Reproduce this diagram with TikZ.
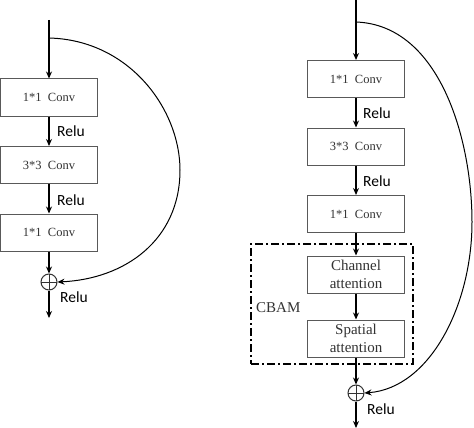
\documentclass[tikz,border=0pt]{standalone}
\usepackage{fontspec}
\setmainfont{Liberation Serif}
\newfontfamily\relufont{Carlito}
\usetikzlibrary{arrows.meta}
\begin{document}
\begin{tikzpicture}[x=1pt,y=-1pt,
 convbox/.style={draw=black!65, line width=1pt, fill=white, minimum width=97pt, minimum height=37pt, inner sep=0pt, font=\fontsize{12.5}{14}\selectfont, text=black!80, align=center},
 attbox/.style={convbox, font=\fontsize{15}{18}\selectfont},
 flow/.style={draw=black, line width=1.2pt, -{Stealth[length=7pt,width=6pt]}},
 link/.style={draw=black, line width=1pt, -{Stealth[length=7pt,width=6pt]}},
 relu/.style={font=\relufont\fontsize{15.5}{17}\selectfont, anchor=west, inner sep=0pt, text=black},
 sum/.style={circle, draw=black!80, line width=1pt, minimum size=16pt, inner sep=0pt, fill=white,
   path picture={\draw[black!80, line width=1pt] (path picture bounding box.north) -- (path picture bounding box.south) (path picture bounding box.west) -- (path picture bounding box.east);}},
 cbam/.style={draw=black, line width=1.8pt, dash pattern=on 8pt off 3pt on 2pt off 3pt, minimum width=162pt, minimum height=120pt, inner sep=0pt},
 lbl/.style={font=\fontsize{15}{18}\selectfont, text=black!80, anchor=west, inner sep=0pt},
]
\useasboundingbox (0,0) rectangle (474,428);

% ---------- left block ----------
\coordinate (ain) at (49,20);
\coordinate (ab) at (49,38);
\node[convbox] (a1) at (49,97.5) {1*1\ \ Conv};
\node[convbox] (a2) at (49,165) {3*3\ \ Conv};
\node[convbox] (a3) at (49,232.5) {1*1\ \ Conv};
\node[sum] (asum) at (49,282) {};
\coordinate (aout) at (49,318);

\draw[flow] (ain) -- (a1);
\draw[flow] (a1) -- (a2);
\draw[flow] (a2) -- (a3);
\draw[flow] (a3) -- (asum);
\draw[flow] (asum) -- (aout);
\draw[link] (ab) .. controls (130,40) and (180,110) .. (180,170) .. controls (180,240) and (125,279) .. (asum.east);

\node[relu] (ar1) at (57,131) {Relu};
\node[relu] (ar2) at (57,200) {Relu};
\node[relu] (ar3) at (60,297) {Relu};

% ---------- right block ----------
\coordinate (bin) at (356,0);
\coordinate (bb) at (356,22);
\node[cbam] (cb) at (332,304) {};
\node[convbox] (b1) at (356,79) {1*1\ \ Conv};
\node[convbox] (b2) at (356,146.5) {3*3\ \ Conv};
\node[convbox] (b3) at (356,214) {1*1\ \ Conv};
\node[attbox] (b4) at (356,274.5) {Channel\\attention};
\node[attbox] (b5) at (356,338.5) {Spatial\\attention};
\node[sum] (bsum) at (356,393) {};
\coordinate (bout) at (356,428);

\draw[flow] (bin) -- (b1);
\draw[flow] (b1) -- (b2);
\draw[flow] (b2) -- (b3);
\draw[flow] (b3) -- (b4);
\draw[flow] (b4) -- (b5);
\draw[flow] (b5) -- (bsum);
\draw[flow] (bsum) -- (bout);
\draw[link] (bb) .. controls (440,25) and (472,140) .. (472,222) .. controls (472,305) and (430,388) .. (bsum.east);

\node[relu] (br1) at (363,113) {Relu};
\node[relu] (br2) at (363,181) {Relu};
\node[relu] (br3) at (367,409) {Relu};
\node[lbl] (cbl) at (256,308) {CBAM};
\end{tikzpicture}
\end{document}
